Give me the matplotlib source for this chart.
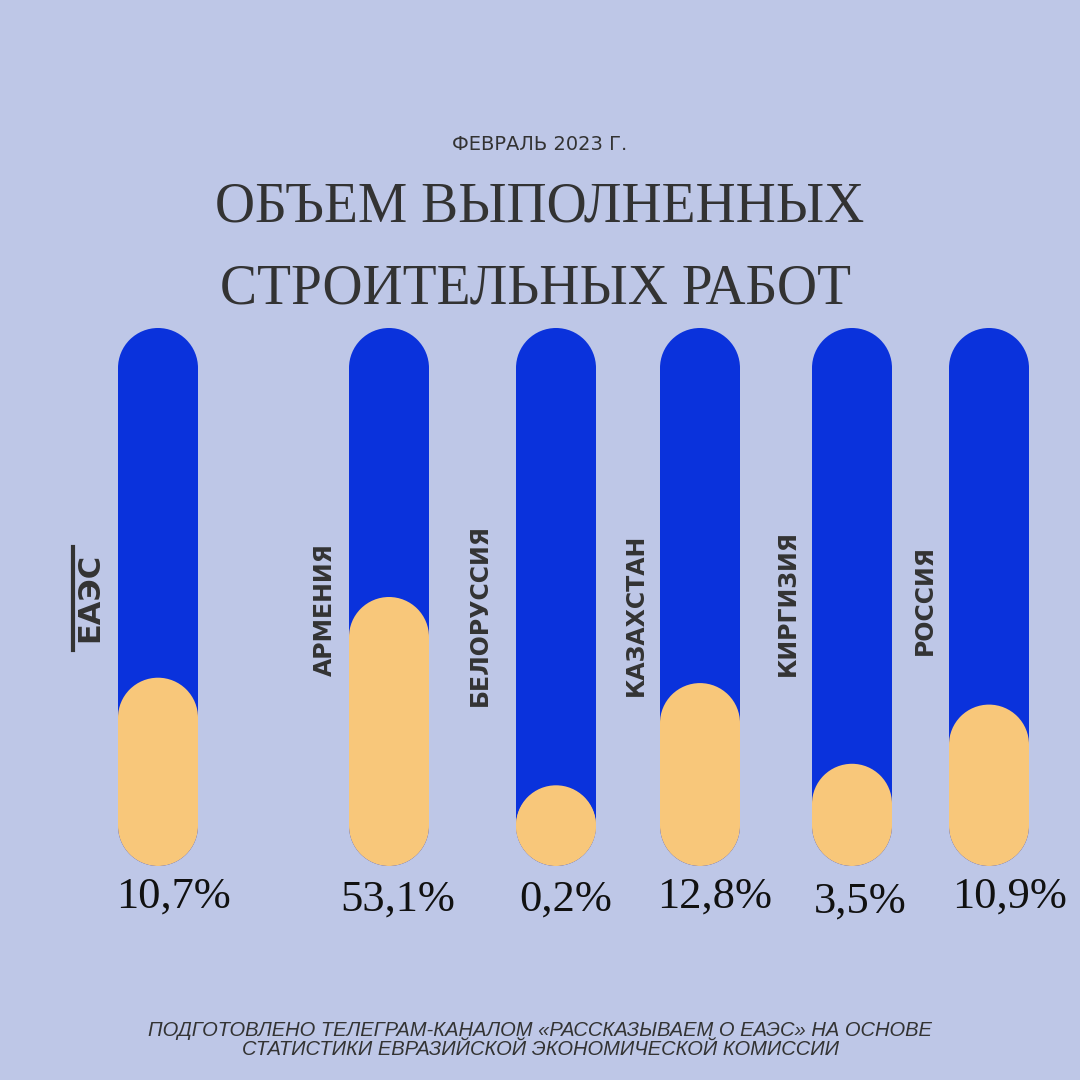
import matplotlib.pyplot as plt
from matplotlib.patches import Rectangle, Circle

# data
countries = ['ЕАЭС', 'АРМЕНИЯ', 'БЕЛОРУССИЯ', 'КАЗАХСТАН', 'КИРГИЗИЯ', 'РОССИЯ']
labels = ['10,7%', '53,1%', '0,2%', '12,8%', '3,5%', '10,9%']
fill_share = [0.35, 0.50, 0.15, 0.34, 0.19, 0.30]   # orange part of each pill

bar_x = [158, 389, 556, 700, 852, 989]
name_x = [90, 325, 480, 636, 788, 925]
name_y = [597, 610, 615, 615, 603, 600]
pct_x = [173, 398, 566, 715, 860, 1010]
pct_y = [897, 900, 900, 897, 902, 897]

bg = '#bec7e7'
blue = '#0a32dc'
orange = '#f8c77a'
ink = '#333333'

fig = plt.figure(figsize=(10.8, 10.8), dpi=100, facecolor=bg)
ax = fig.add_axes([0, 0, 1, 1])
ax.set_xlim(0, 1080)
ax.set_ylim(1080, 0)
ax.set_aspect('equal')
ax.axis('off')


def pill(xc, y0, y1, r, color):
    # vertical capsule from y0 (top) to y1 (bottom)
    ax.add_patch(Rectangle((xc - r, y0 + r), 2 * r, max(y1 - y0 - 2 * r, 0), fc=color, ec='none'))
    ax.add_patch(Circle((xc, y0 + r), r, fc=color, ec='none'))
    ax.add_patch(Circle((xc, y1 - r), r, fc=color, ec='none'))


top, bottom, r = 328, 866, 40
h = bottom - top
for i in range(len(countries)):
    pill(bar_x[i], top, bottom, r, blue)
    pill(bar_x[i], bottom - h * fill_share[i], bottom, r, orange)
    t = ax.text(name_x[i], name_y[i], countries[i], rotation=90, ha='center', va='center',
                fontsize=17, fontweight='bold', color=ink)
    if i == 0:
        t.set_fontsize(22)
        ax.plot([73, 73], [547, 650], color=ink, lw=3)
    ax.text(pct_x[i], pct_y[i], labels[i], ha='center', va='center', fontsize=32,
            color='#111111', family='Liberation Serif')

ax.text(540, 145, 'ФЕВРАЛЬ 2023 Г.', ha='center', va='center', fontsize=14, color=ink)
ax.text(540, 207, 'ОБЪЕМ ВЫПОЛНЕННЫХ', ha='center', va='center', fontsize=40,
        color=ink, family='Liberation Serif')
ax.text(535, 290, 'СТРОИТЕЛЬНЫХ РАБОТ', ha='center', va='center', fontsize=40,
        color=ink, family='Liberation Serif')
ax.text(540, 1040, 'ПОДГОТОВЛЕНО ТЕЛЕГРАМ-КАНАЛОМ «РАССКАЗЫВАЕМ О ЕАЭС» НА ОСНОВЕ\n'
        'СТАТИСТИКИ ЕВРАЗИЙСКОЙ ЭКОНОМИЧЕСКОЙ КОМИССИИ', ha='center', va='center',
        fontsize=14.5, style='italic', color=ink, linespacing=1.05,
        family='Liberation Sans')

fig.savefig('out.png', dpi=100, facecolor=bg)
